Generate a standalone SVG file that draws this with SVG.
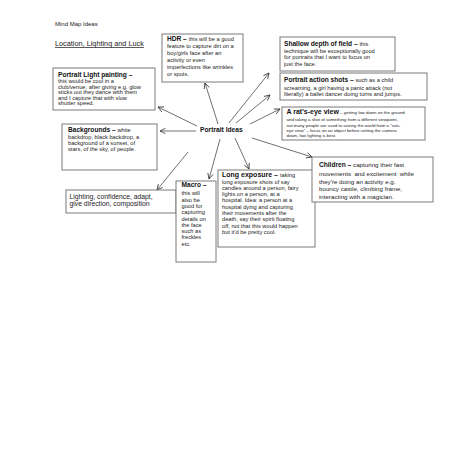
<svg xmlns="http://www.w3.org/2000/svg" width="453" height="453" viewBox="0 0 453 453">
<style>
text{font-family:"Liberation Sans",Arial,sans-serif;fill:#222;font-size:5.7px}
.b{font-weight:bold;fill:#111;font-size:6.6px}
.box{fill:#fff;stroke:#7a7a7a;stroke-width:1}
.con{stroke:#333;stroke-width:0.7;fill:none;marker-end:url(#ah)}
</style>
<defs>
<marker id="ah" markerWidth="7" markerHeight="7" refX="6" refY="3.5" orient="auto" markerUnits="userSpaceOnUse">
<path d="M0.5,0.8 L6,3.5 L0.5,6.2" fill="none" stroke="#333" stroke-width="0.8"/>
</marker>
</defs>
<rect width="453" height="453" fill="#fff"/>
<text x="55" y="25.5" style="font-size:6px">Mind Map Ideas</text>
<text x="55" y="46" style="font-size:7.3px;text-decoration:underline">Location, Lighting and Luck</text>

<g id="connectors">
<line class="con" x1="197" y1="126" x2="158" y2="107"/>
<line class="con" x1="196" y1="131" x2="160" y2="131"/>
<line class="con" x1="218" y1="124" x2="205" y2="83"/>
<line class="con" x1="229" y1="123" x2="269" y2="73"/>
<line class="con" x1="236" y1="123" x2="270" y2="95"/>
<line class="con" x1="250" y1="124" x2="280" y2="109"/>
<line class="con" x1="252" y1="138" x2="312" y2="157"/>
<line class="con" x1="235" y1="138" x2="249" y2="169"/>
<line class="con" x1="220" y1="139" x2="209" y2="179"/>
<line class="con" x1="188" y1="152" x2="157" y2="190"/>
</g>

<g id="center">
<text x="200" y="131.5" class="b" style="font-size:6.7px">Portrait Ideas</text>
</g>

<g id="hdr">
<rect class="box" x="162" y="34" width="81" height="48"/>
<text x="167" y="41"><tspan class="b">HDR – </tspan>this will be a good</text>
<text x="167" y="48">feature to capture dirt on a</text>
<text x="167" y="55">boy/girls face after an</text>
<text x="167" y="62">activity or even</text>
<text x="167" y="69">imperfections like wrinkles</text>
<text x="167" y="76">or spots.</text>
</g>

<g id="shallow">
<rect class="box" x="280" y="37" width="115" height="34"/>
<text x="284" y="46"><tspan class="b">Shallow depth of field – </tspan>this</text>
<text x="284" y="52.7">technique will be exceptionally good</text>
<text x="284" y="59.3">for portraits that I want to focus on</text>
<text x="284" y="65.5">just the face.</text>
</g>

<g id="action">
<rect class="box" x="280" y="73" width="147" height="27"/>
<text x="284" y="82"><tspan class="b">Portrait action shots – </tspan>such as a child</text>
<text x="284" y="89.5">screaming, a girl having a panic attack (not</text>
<text x="284" y="96">literally) a ballet dancer doing turns and jumps.</text>
</g>

<g id="ratseye">
<rect class="box" x="282" y="107" width="143" height="33"/>
<text x="286.5" y="114" style="font-size:4.4px"><tspan class="b" style="font-size:7px">A rat's-eye view</tspan> – getting low down on the ground</text>
<text x="286.5" y="120.8" style="font-size:4.4px">and taking a shot of something from a different viewpoint,</text>
<text x="286.5" y="126.5" style="font-size:4.4px">not many people are used to seeing the world from a "rats-</text>
<text x="286.5" y="131.5" style="font-size:4.4px">eye view" – focus on an object before setting the camera</text>
<text x="286.5" y="136.5" style="font-size:4.4px">down, low lighting is best.</text>
</g>

<g id="lightpainting">
<rect class="box" x="53" y="68" width="102" height="42"/>
<text x="58" y="77" class="b">Portrait Light painting –</text>
<text x="58" y="83.2">this would be cool in a</text>
<text x="58" y="88.8">club/venue, after giving e.g. glow</text>
<text x="58" y="94.4">sticks out they dance with them</text>
<text x="58" y="99.8">and I capture that with slow</text>
<text x="58" y="105.2">shutter speed.</text>
</g>

<g id="backgrounds">
<rect class="box" x="62" y="124" width="95" height="46"/>
<text x="68" y="132"><tspan class="b">Backgrounds – </tspan>white</text>
<text x="68" y="138.8">backdrop, black backdrop, a</text>
<text x="68" y="145">background of a sunset, of</text>
<text x="68" y="151.2">stars, of the sky, of people.</text>
</g>

<g id="lighting">
<rect class="box" x="66" y="190" width="110" height="23"/>
<text x="69.5" y="198.5" style="font-size:6.8px">Lighting, confidence, adapt,</text>
<text x="69.5" y="206" style="font-size:6.8px">give direction, composition</text>
</g>

<g id="macro">
<rect class="box" x="176" y="181" width="40" height="81"/>
<text x="181.5" y="187.2" class="b">Macro –</text>
<text x="181.5" y="195.3">this will</text>
<text x="181.5" y="201.5">also be</text>
<text x="181.5" y="208">good for</text>
<text x="181.5" y="214.3">capturing</text>
<text x="181.5" y="220.7">details on</text>
<text x="181.5" y="227">the face</text>
<text x="181.5" y="233.2">such as</text>
<text x="181.5" y="239.4">freckles</text>
<text x="181.5" y="246">etc.</text>
</g>

<g id="longexposure">
<rect class="box" x="218" y="170" width="97" height="77"/>
<text x="222" y="177"><tspan class="b" style="font-size:7px">Long exposure – </tspan>taking</text>
<text x="222" y="183.5">long exposure shots of say</text>
<text x="222" y="189.8">candles around a person, fairy</text>
<text x="222" y="196.1">lights on a person, at a</text>
<text x="222" y="202.4">hospital. Idea: a person at a</text>
<text x="222" y="208.7">hospital dying and capturing</text>
<text x="222" y="215">their movements after the</text>
<text x="222" y="221.3">death, say their spirit floating</text>
<text x="222" y="227.6">off, not that this would happen</text>
<text x="222" y="234">but it'd be pretty cool.</text>
</g>

<g id="children">
<rect class="box" x="312" y="157" width="121" height="45"/>
<text x="319" y="167" style="font-size:6.2px"><tspan class="b">Children – </tspan>capturing their fast</text>
<text x="319" y="176" style="font-size:6.2px" xml:space="preserve">movements  and excitement  while</text>
<text x="319" y="183.7" style="font-size:6.2px">they're doing an activity e.g.</text>
<text x="319" y="191.3" style="font-size:6.2px">bouncy castle, climbing frame,</text>
<text x="319" y="198.7" style="font-size:6.2px">interacting with a magician.</text>
</g>
</svg>
